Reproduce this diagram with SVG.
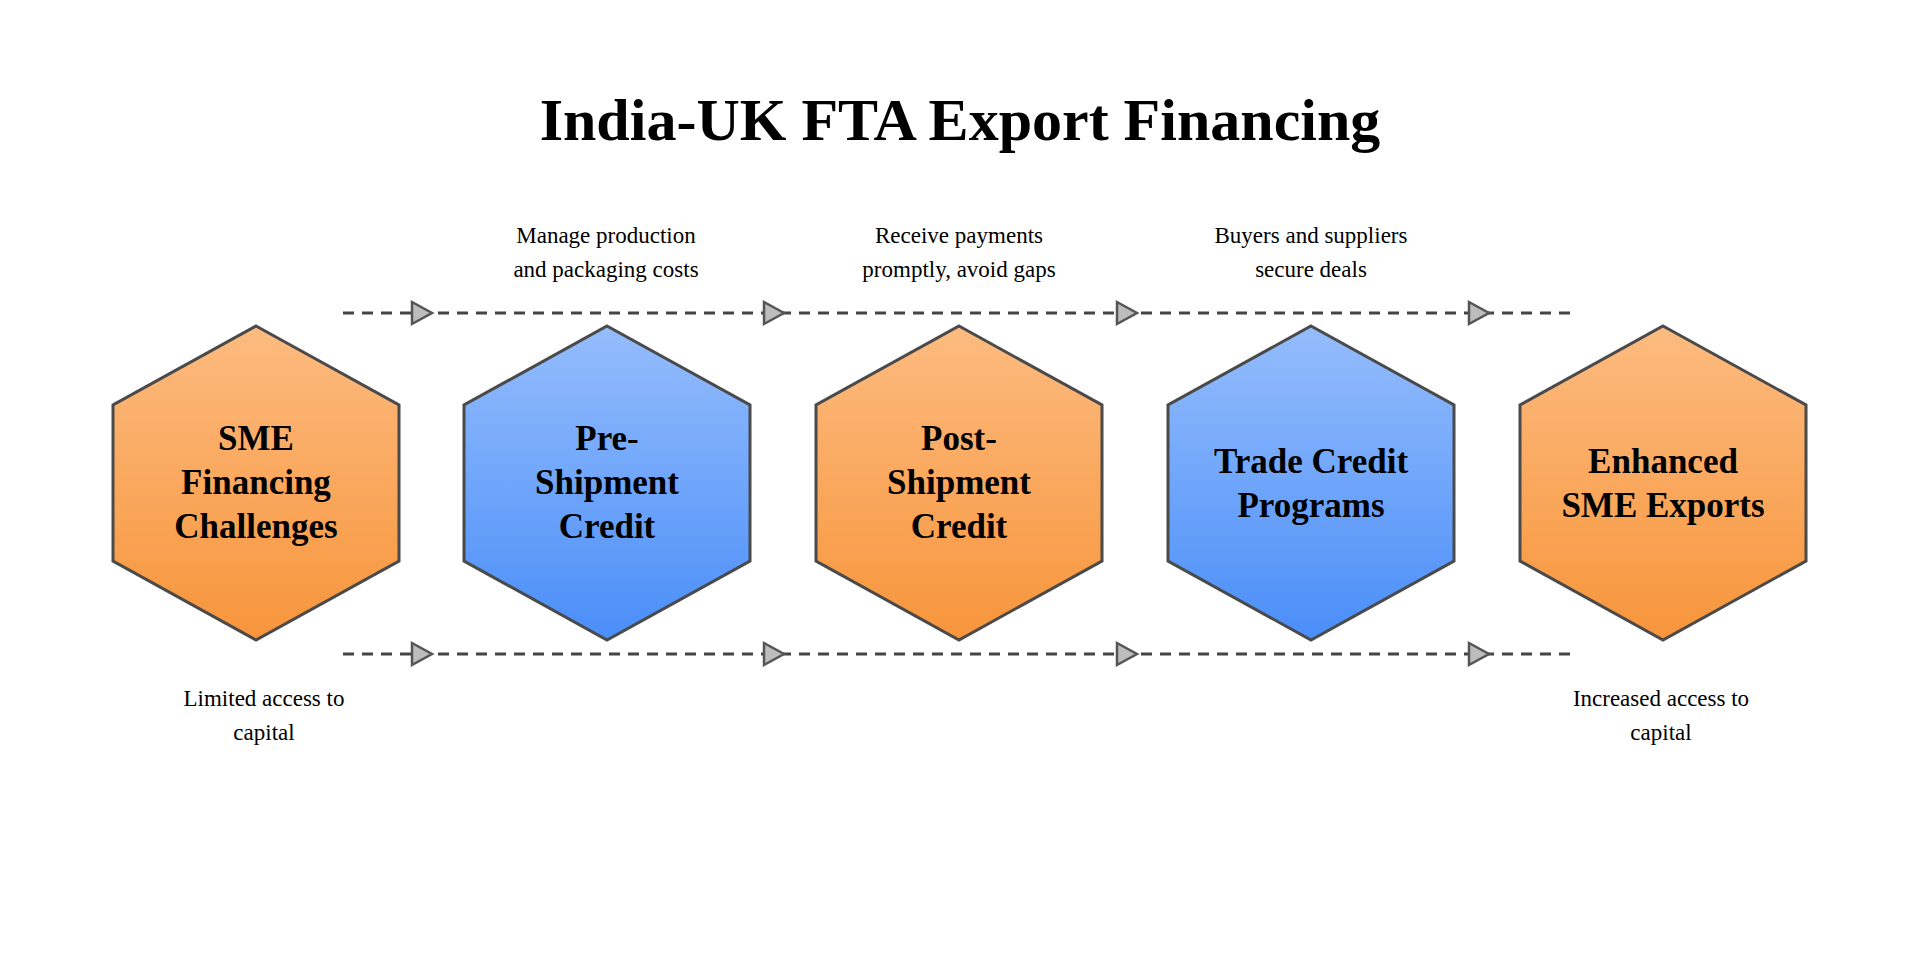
<svg xmlns="http://www.w3.org/2000/svg" width="1920" height="956" viewBox="0 0 1920 956">
<defs>
<linearGradient id="og" x1="0" y1="0" x2="0" y2="1"><stop offset="0" stop-color="#fdbb80"/><stop offset="1" stop-color="#f7953b"/></linearGradient>
<linearGradient id="bg" x1="0" y1="0" x2="0" y2="1"><stop offset="0" stop-color="#95bdfd"/><stop offset="1" stop-color="#4a8ef8"/></linearGradient>
<polygon id="hex" points="0,-157 143,-78 143,78 0,157 -143,78 -143,-78"/>
<polygon id="arr" points="0,-11 20,0 0,11"/>
</defs>
<style>
.t{font-family:"Liberation Serif",serif;fill:#000}
.n{font-family:"Liberation Serif",serif;font-weight:bold;font-size:35px;text-anchor:middle}
.l{font-family:"Liberation Serif",serif;font-size:23px;text-anchor:middle}
.hx{stroke:#4a4a4a;stroke-width:3}
.d{stroke:#444;stroke-width:3;stroke-dasharray:11,8;fill:none}
.a{fill:#bdbdbd;stroke:#555;stroke-width:2.5}
</style>
<rect width="1920" height="956" fill="#fff"/>
<text class="t" x="960" y="140" font-size="60" font-weight="bold" text-anchor="middle">India-UK FTA Export Financing</text>
<g id="connectors">
<line class="d" x1="343" y1="313" x2="1577" y2="313"/>
<line class="d" x1="343" y1="654" x2="1577" y2="654"/>
<use href="#arr" class="a" x="412" y="313"/><use href="#arr" class="a" x="764" y="313"/><use href="#arr" class="a" x="1117" y="313"/><use href="#arr" class="a" x="1469" y="313"/>
<use href="#arr" class="a" x="412" y="654"/><use href="#arr" class="a" x="764" y="654"/><use href="#arr" class="a" x="1117" y="654"/><use href="#arr" class="a" x="1469" y="654"/>
</g>
<g id="n1"><use href="#hex" class="hx" x="256" y="483" fill="url(#og)"/>
<text class="n" x="256"><tspan x="256" y="450">SME</tspan><tspan x="256" y="494">Financing</tspan><tspan x="256" y="538">Challenges</tspan></text></g>
<g id="n2"><use href="#hex" class="hx" x="607" y="483" fill="url(#bg)"/>
<text class="n"><tspan x="607" y="450">Pre-</tspan><tspan x="607" y="494">Shipment</tspan><tspan x="607" y="538">Credit</tspan></text></g>
<g id="n3"><use href="#hex" class="hx" x="959" y="483" fill="url(#og)"/>
<text class="n"><tspan x="959" y="450">Post-</tspan><tspan x="959" y="494">Shipment</tspan><tspan x="959" y="538">Credit</tspan></text></g>
<g id="n4"><use href="#hex" class="hx" x="1311" y="483" fill="url(#bg)"/>
<text class="n"><tspan x="1311" y="473">Trade Credit</tspan><tspan x="1311" y="517">Programs</tspan></text></g>
<g id="n5"><use href="#hex" class="hx" x="1663" y="483" fill="url(#og)"/>
<text class="n"><tspan x="1663" y="473">Enhanced</tspan><tspan x="1663" y="517">SME Exports</tspan></text></g>
<g id="labels">
<text class="l"><tspan x="606" y="243">Manage production</tspan><tspan x="606" y="277">and packaging costs</tspan></text>
<text class="l"><tspan x="959" y="243">Receive payments</tspan><tspan x="959" y="277">promptly, avoid gaps</tspan></text>
<text class="l"><tspan x="1311" y="243">Buyers and suppliers</tspan><tspan x="1311" y="277">secure deals</tspan></text>
<text class="l"><tspan x="264" y="706">Limited access to</tspan><tspan x="264" y="740">capital</tspan></text>
<text class="l"><tspan x="1661" y="706">Increased access to</tspan><tspan x="1661" y="740">capital</tspan></text>
</g>
</svg>
